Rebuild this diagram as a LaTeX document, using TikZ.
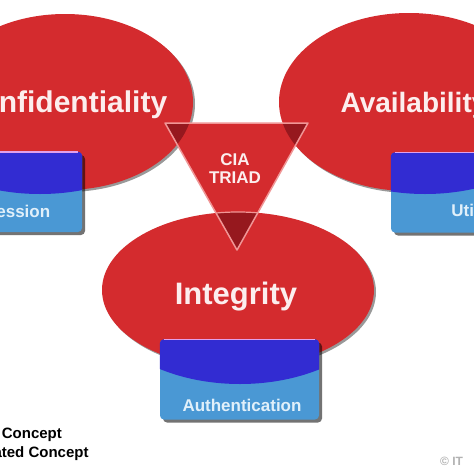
\documentclass[tikz,border=0pt]{standalone}
\usepackage{fontspec}
\setmainfont{Liberation Sans}
\usepackage{xcolor}
\usepackage{tikz}
\usetikzlibrary{shadows}

\definecolor{triadred}{RGB}{212,43,46}
\definecolor{triaddark}{RGB}{150,24,30}
\definecolor{edgepink}{RGB}{240,150,150}
\definecolor{wordwhite}{RGB}{252,238,238}
\definecolor{glossblue}{RGB}{50,44,210}
\definecolor{boxblue}{RGB}{74,152,212}
\definecolor{boxtext}{RGB}{225,240,250}
\definecolor{toppink}{RGB}{225,160,235}

\begin{document}
\begin{tikzpicture}[x=1pt, y=-1pt,
    bubble/.style={fill=triadred, drop shadow={shadow xshift=2pt, shadow yshift=-2pt, fill=black, opacity=.4}},
    bigword/.style={text=wordwhite, font=\bfseries\fontsize{30}{36}\selectfont, anchor=base, inner sep=0pt},
    smallword/.style={text=wordwhite, font=\bfseries\fontsize{17}{20}\selectfont, anchor=base, inner sep=0pt},
    boxword/.style={text=boxtext, font=\bfseries\fontsize{17}{20}\selectfont, anchor=base, inner sep=0pt},
    legendword/.style={text=black, font=\bfseries\fontsize{15}{18}\selectfont, anchor=base west, inner sep=0pt},
    conceptbox/.style={fill=boxblue, rounded corners=4pt, minimum width=159pt, minimum height=80pt, inner sep=0pt,
      drop shadow={shadow xshift=3pt, shadow yshift=-3pt, fill=black, opacity=.55}},
    topedge/.style={draw=toppink, line width=1.5pt},
    confshape/.style={insert path={(65,102) ellipse [x radius=128pt, y radius=88pt]}},
    availshape/.style={insert path={(409,102) ellipse [x radius=130pt, y radius=89pt]}},
    integshape/.style={insert path={(238,290) ellipse [x radius=136pt, y radius=78pt]}}]

    % frame
    \useasboundingbox (0,0) rectangle (474,474);
    \clip (0,0) rectangle (474,474);
    \fill[white] (0,0) rectangle (474,474);

    % the three circles
    \path[bubble, confshape];
    \path[bubble, availshape];
    \path[bubble, integshape];

    % triad triangle
    \coordinate (tl) at (165,123);
    \coordinate (tr) at (308,123);
    \coordinate (tb) at (237,250);
    \fill[triadred] (tl) -- (tr) -- (tb) -- cycle;
    \begin{scope}
        \clip (tl) -- (tr) -- (tb) -- cycle;
        \fill[triaddark, confshape];
        \fill[triaddark, availshape];
        \fill[triaddark, integshape];
        \draw[edgepink, line width=1.2pt, integshape];
    \end{scope}
    \draw[edgepink, line width=1.5pt, line join=round] (tl) -- (tr) -- (tb) -- cycle;

    \node[bigword] (conf) at (63,112) {Confidentiality};
    \node[bigword, font=\bfseries\fontsize{28}{34}\selectfont] (avail) at (414,112) {Availability};
    \node[bigword, font=\bfseries\fontsize{31}{37}\selectfont] (integ) at (236,304) {Integrity};
    \node[smallword] (cia) at (235,165) {CIA};
    \node[smallword] (triad) at (235,183) {TRIAD};

    % related concepts
    \node[conceptbox] (possbox) at (2.5,192) {};
    \begin{scope}
        \clip[rounded corners=4pt] (possbox.north west) rectangle (possbox.south east);
        \fill[glossblue] (40,97) ellipse [x radius=150pt, y radius=97pt];
    \end{scope}
    \draw[topedge] ([xshift=4pt]possbox.north west) -- ([xshift=-4pt]possbox.north east);
    \node[boxword] (poss) at (3,217) {Possession};

    \node[conceptbox] (utilbox) at (470.5,192.5) {};
    \begin{scope}
        \clip[rounded corners=4pt] (utilbox.north west) rectangle (utilbox.south east);
        \fill[glossblue] (425,97) ellipse [x radius=150pt, y radius=97pt];
    \end{scope}
    \draw[topedge] ([xshift=4pt]utilbox.north west) -- ([xshift=-4pt]utilbox.north east);
    \node[boxword] (util) at (475,216) {Utility};

    \node[conceptbox] (authbox) at (239.5,379.5) {};
    \begin{scope}
        \clip[rounded corners=4pt] (authbox.north west) rectangle (authbox.south east);
        \fill[glossblue] (240,287) ellipse [x radius=150pt, y radius=97pt];
    \end{scope}
    \draw[topedge] ([xshift=4pt]authbox.north west) -- ([xshift=-4pt]authbox.north east);
    \node[boxword] (auth) at (242,411) {Authentication};

    % legend
    \node[legendword] (key) at (-30,438) {Key Concept};
    \node[legendword] (related) at (-30,457) {Related Concept};
    \node[text=black!30, font=\bfseries\fontsize{12}{14}\selectfont, anchor=base west, inner sep=0pt] (copy) at (440,465) {© IT};
\end{tikzpicture}
\end{document}
